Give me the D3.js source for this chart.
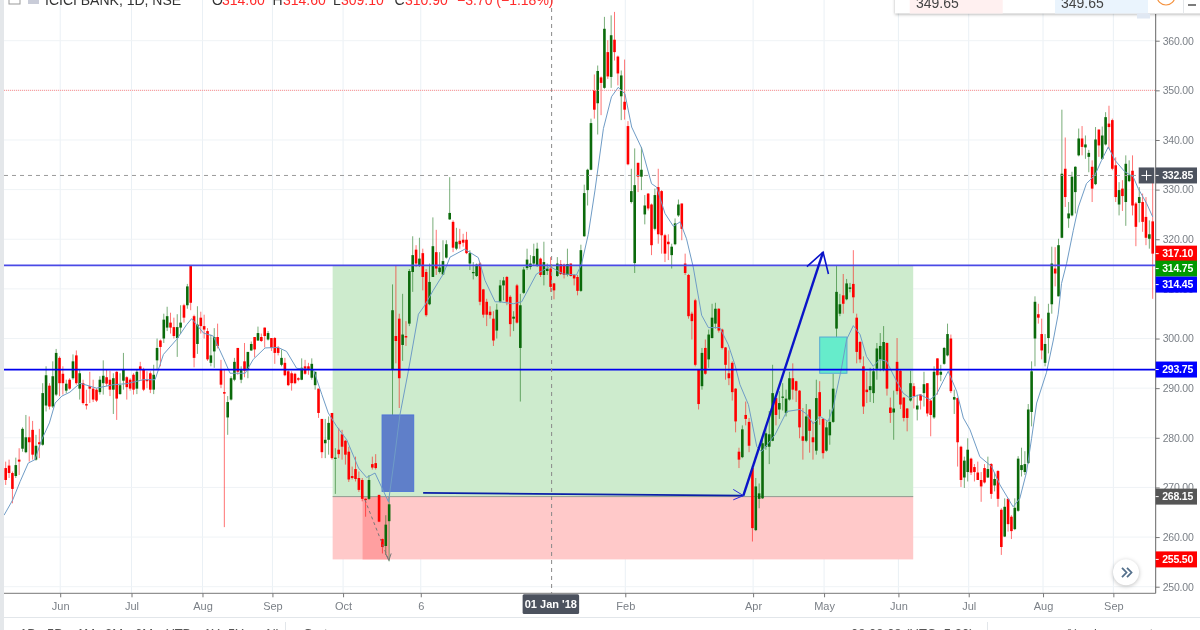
<!DOCTYPE html>
<html>
<head>
<meta charset="utf-8">
<script src="https://cdnjs.cloudflare.com/ajax/libs/d3/7.8.5/d3.min.js"></script>
<style>
html,body{margin:0;padding:0;background:#fff;overflow:hidden}
svg{display:block;font-family:"Liberation Sans",Arial,sans-serif;filter:blur(.35px)}
</style>
</head>
<body>
<div id="chart"></div>
<script>
var w = 1200,
	h = 630;

//Candles, ICICI BANK daily, left to right
var opens = [273.9,274.4,272.9,272.3,275.6,277.8,277.1,280.1,281.6,275.6,
279.1,278.6,286.5,290.5,286.3,288.7,296.1,292.9,289.5,291.7,
292,296.6,289.9,291,286.8,290.4,289.9,289.7,289.2,291,
292.2,291.7,289.7,293.3,288.8,291.5,292.2,291.7,292.7,289.9,
294.4,293.7,291.7,293,289.7,295.6,299.6,300,302.2,303.2,
302.3,300.1,302.2,306.7,306.7,314.6,304.5,298.9,304.2,302.5,
301.5,295.1,297.4,300.3,293.7,289.2,284.1,287.7,291.7,298.1,
291.7,295.4,293.7,297.6,300.3,299.6,300.3,302.2,299.8,300.1,
300.1,298.1,294.7,295.1,293.4,293,292.9,292,291.7,294.4,
294.4,292.1,290.6,289.9,283.8,278.9,279.6,285,275.8,277.6,
280.7,279.4,277.2,272.3,273.7,271.9,271.5,267.7,267.7,274.7,
274.9,268.5,259.6,258.2,263.2,293.7,300.5,304,298.7,300.5,
303,313.4,317.9,314.8,317.2,313.4,306.9,312.4,317.4,313.4,
312.9,316.3,324,323.5,318.1,319.7,319.9,319.9,315.1,313.3,
312.6,315.1,309.9,307.4,305.4,304,301.6,307.4,310.7,312.4,
308.4,304,310.7,298.1,309.2,314.2,314.4,315.1,314.8,316.1,
312.8,313.6,314.1,311.1,312.6,315,314.9,312.8,315.1,312.8,
312.4,309.6,320.6,329.9,334,350,347.4,352.6,350.5,357.7,
352.7,360.2,356.8,348.8,347.7,342.8,327.5,315.2,335.4,332.6,
325,329.2,327,322.1,330.5,329.7,320.8,319.5,316.8,319,
324.8,327.2,315.1,312.8,305,307.7,293.7,290.4,298.1,295.8,
300.1,303,306,301.8,298.2,293,295.1,289.9,277.2,276.1,
284.6,283.2,273.9,261.4,267.7,267.8,278.2,278.2,279.4,288,
285.7,288.1,285,287.7,292,291.4,289.5,280.3,279.4,285.7,
280.1,277.4,289.2,283.8,277.4,280.5,283.2,302,305,308.7,
307.9,310,311,304.2,299.3,294.4,289.7,289.6,289,293.9,
295.8,293.7,299.1,286.1,285.1,295.3,293.5,288.1,285.9,287.5,
290.4,285.7,288.7,289,291,287.5,284.1,296,292.7,294.9,
296.6,300,287.7,288,278.2,272,273.1,275.8,274.1,273,
271.5,273.9,272,274.7,270.4,273.3,265.5,260.1,267.7,264.1,
261.6,265.3,273.5,273.1,274.9,285.2,300,304.9,300.9,295.1,
300.1,306.9,314.1,308.5,320.3,334.2,324.2,324.8,329.5,336.9,
340.3,338.5,336.6,334.6,331.1,342.1,336.2,339.1,343.3,344,
334.9,327,330.2,327.5,331.7,333.8,327.2,327.3,327.5,324.5,320.1,323.6];

var highs = [275.2,275.6,273.2,276,277.9,282.1,284.6,284.3,283.4,280.6,
281.8,291,294.4,291,295.4,297.9,296.4,294.4,291.7,292,
296.8,297.6,293.7,291.7,289.7,293.3,291.7,290,292.4,295.6,
293.7,293.5,293,293.4,293,297.1,292.4,292,293,293.7,
295.3,294.1,293.4,293.4,294.7,300,299.8,305,306.4,305.2,
304.2,304.9,306.7,307,311,314.75,304.8,306.5,305.4,304.8,
302.1,300.8,302.1,303,295.7,293.7,288.4,292.4,296.1,298.1,
294.4,299.1,297.3,299.4,300.3,302.4,301,302.2,301.5,300.1,
300.3,298.5,297.8,296.1,293.7,293.4,293.1,292.2,296,295.7,
295.1,296,293.3,289.9,283.8,283.8,284.3,285,277.9,282,
281.6,279.6,278.2,274.2,276.2,273.2,271.9,267.8,272.5,276.2,
276.7,268.5,259.7,264.4,268.1,310.9,314.7,305,309,303.5,
314,320.6,318.8,320.3,318.1,314,315.1,324.4,321.9,317.4,
319.8,319.8,332.5,323.8,322.3,322.1,321.1,321.5,317.8,315.4,
315.1,315.4,310,308,306.5,305.5,307,311.8,312.4,312.6,
308.7,305.5,311,309,314.4,318.1,316.8,319.1,319.3,316.3,
319.5,315.1,316.4,311.2,316.4,315.8,315.1,318.1,315.1,313,
312.8,318.9,331,334.2,344.3,353.2,355,352.8,364.8,360.1,
365.1,365.8,357,354,356.2,343.8,334.2,338.3,335.4,338.6,
328.9,329.3,327.2,330.2,334.2,329.9,321.1,321,319.1,324.2,
328,327.2,317.1,313,305.4,308,293.8,298.1,299.8,301.8,
307,307.2,306.1,302,298.3,297.6,295.4,290,278,282.5,
287.3,284,274.2,271.9,270.8,280,282.6,285.4,294.7,288.1,
289.4,291,289.7,293.3,295,291.5,289.6,286,286.8,285.8,
283.3,291.7,291.4,284,283.3,285.7,292.9,314.6,309,313,
312,311.2,317.8,305,299.5,296.4,293.3,294.1,294.1,299.1,
301.1,302.5,299.2,288.1,289.5,300.1,293.7,288.2,286,293.5,
291,288.7,288.8,293.3,291,287.7,294.4,296,294.7,298.3,
303,300.8,289.7,288.1,278.4,276.2,279.9,276,274.7,275.2,
273.1,274.7,276.2,274.9,273,273.5,265.8,267.8,267.8,264.4,
267.8,276.3,278,277.3,286.8,295.4,308.5,307,304,300.9,
307,318.5,318.4,320.1,346.1,340.5,327.5,333.6,334.7,342.3,
342.8,340.9,338,335.9,342.6,342.1,342.7,345.6,346.9,344.3,
336.5,331.5,331.9,336.9,335.9,336.9,327.5,330.5,329.2,328.5,323.8,332];

var lows = [270.5,271.9,266.8,271.9,272.5,277.2,276.9,275.2,275.6,275.4,
275.9,278.4,285.3,285.7,286,288.4,288.4,288.7,289,289.7,
291.7,290.7,287.7,286.7,285.7,287,287.2,287.2,288.7,288.7,
290.4,288.4,284.8,283.6,288.7,289.7,287.7,289.5,288.7,288.8,
291.7,289.4,290,289,288.8,293.7,294.4,299.1,301.5,301,
300,296.3,300.9,303.2,306,305.7,294.2,296.9,301,300,
295.5,294.4,294.1,298,290,262,280.6,287.5,291.4,292.7,
291,292.2,292,297.5,296.2,299.5,299.3,298.2,299.6,297.5,
294.9,296.6,294.4,292.4,290.4,289.5,290.8,291.4,291.6,292.7,
292.7,291.7,289.7,284,275.9,275.9,276.6,275.6,268.7,275.9,
275.6,274.6,271.1,271.6,271.2,269.1,267.2,264.1,267.5,273.6,
273.6,263,256.7,256.4,255.1,284.6,295,286,295.5,298.5,
302.5,309.4,314.4,314.4,309.7,304.4,306.7,312.4,312.8,313.1,
312.8,316.1,323.9,317.4,317.8,318.1,318.5,317,313.8,311.9,
312.4,306.7,304.2,302.5,304,298.5,300,307.2,307.7,306.7,
300.4,301.5,303,287.3,309,313.8,313.9,314.8,314.4,312.4,
310.7,312.8,309.4,307.9,312.4,312.8,312.1,312.5,312.5,310.7,
308.7,309.4,320.5,326.8,333.9,344.3,341.1,345,350.3,352.3,
350.5,356,351,344,344.1,334.9,327.2,313.2,329.5,329.9,
323,325.8,316.8,321.8,319.1,317.1,315.4,315.8,314.1,318.8,
324.5,319.8,312.8,304,299.8,294.4,285.7,289.7,292.7,294.1,
300,302,301.2,297.8,291.7,290.6,287.5,281.1,273.9,275.9,
282.5,277.1,259.1,261.2,265.8,267.7,277.6,274.7,279.3,282.5,
283.8,285.5,284.3,287.5,287.7,287.2,279.9,275.6,279.1,277,
275.6,276.6,282.6,275.8,277.2,278.6,283,300.3,304.5,305,
307.7,309.3,305.1,295,295.1,284.8,287,287.2,287,291.7,
293.4,293.4,288.5,283,279.6,288.7,285.8,283.3,281.3,287.3,
285.9,283.5,285.7,286.3,284.3,280.3,283.8,288.7,291.4,294.7,
296.4,289,284.8,274.2,270.1,269.9,271.2,272.5,271.2,271.5,
267.1,270.8,271.9,267.7,269.2,266.1,256.4,260,261.1,259.6,
261.4,265.1,272.2,272.5,274.7,282.3,294.4,303,295.8,294.4,
297,305,310.5,308.5,320.2,326.5,322.3,324.6,325.2,336.7,
336.9,336.2,333.5,327.5,330.9,336.6,336,338.9,338.2,333.9,
327.5,324.8,325.7,322.7,331.5,324.8,318.6,323.4,321.5,318.8,318.1,308];

var closes = [271.5,272.9,269.7,274.5,275.2,281.8,280.1,279.1,276.6,278.4,
278.7,289,292.6,286.3,292.4,297.1,291,291,290.9,289.9,
295.4,291,293,287,286.5,289.9,287.7,287.5,291.7,292.5,
290.9,289.7,292,287.9,290.6,293.7,290.2,289.9,289.7,293.3,
293.7,289.7,291.4,289.7,292.7,298.1,298.3,303.8,304.5,302.2,
300.5,302.3,303.2,304.2,310.5,307.2,296.1,302.8,302.5,301.8,
295.8,296.6,300.3,298.5,290.7,288.9,287.2,292,295.3,293.3,
293.7,293.5,297.3,298.9,297.8,301.1,299.5,300.5,301.1,298.1,
297.1,297.1,296.1,292.6,290.6,291,291,291.7,294.1,292.9,
293.7,294.9,293.3,285,277.1,279.6,283,275.9,276,276.7,
278.2,276.6,271.6,271.9,271.7,269.5,267.7,267.5,271.5,274,
273.9,263.1,258,262.5,266.6,305.7,299.5,292,300.8,300.2,
313.6,316.8,315.1,316.1,312.4,304.7,311.4,318.6,314.1,314.3,
315.6,319,325.3,318.3,319.5,319,319.3,317.2,317.2,313.4,
314.9,307.4,304.8,304.8,304.7,299.6,305.8,310.7,311.7,307.4,
302.9,304.4,303.2,306.7,313.9,315.9,315.1,316.6,318.1,312.8,
315.4,314.1,310.4,309.7,315.1,313,312.8,315,312.6,312.1,
309.6,317.8,329.3,334,343.4,346.1,353.9,351.5,362.4,352.8,
361.1,357.7,353.4,353,346.1,335.1,329.7,330.9,332.6,334,
326.8,326.2,318.8,328.9,321,320.8,317.1,319,318.5,323.2,
327,322.1,313.2,304.5,303.5,294.7,286.8,297.1,292.9,300.8,
304.2,306,301.6,298.1,294.7,292,289.2,283.3,275.6,281.7,
283.8,278.4,261.8,270.2,268.8,278.9,280.9,280.7,289,284.6,
287,288.3,287.9,292,289.7,289.5,282.1,279.4,284.3,281.4,
279.1,288,284.3,276.9,282.1,283.2,289.9,309.4,306.9,307,
311.1,310.3,308.3,297.3,295.8,286.3,289.2,290.4,293.4,298,
298.5,299.3,289.9,285,285.9,289.4,286.7,284,284,291,
288.4,286.5,287.5,290.8,284.9,284.6,293.3,292.6,293.3,298.1,
300.9,289.4,288.2,279.1,271.5,275.4,277.6,273,273.1,271.5,
270.2,271,273.7,268.7,271.7,267.7,258,266.1,262.6,261.2,
265.9,275.8,274.5,274.7,285.7,293.4,307.4,304.2,297.6,298.9,
305.2,315.1,313.1,318.8,333.2,328.5,325.2,332.6,334.6,340.3,
338.6,339.1,337.4,330.2,340.1,338.9,340.9,344.6,342.6,334.2,
328.5,329.9,328.7,335.2,332.9,326.8,322.5,328.5,323.5,320.3,321,317.1];

var maDays = [-0.5,2.1,4.3,6.7,8.7,10.7,13,14.7,16.7,19.1,22.1,27,32,36,40.9,44.4,46.9,50.8,53.8,55.3,
58.8,61.7,64.7,66.7,71.2,73.6,77.1,81,83.5,86.5,91.5,94,95.9,98.4,101.4,104.9,107.3,109.8,113.8,115.3,
117.2,119.7,122.7,124.6,127.1,130.1,132.1,136.5,140.5,142.5,145.5,146.9,150.9,153.4,157.8,161.8,165.8,169.7,171.2,173.2,
175.2,177.7,180.1,182.1,184.1,186.1,189.1,192,193.5,196,198.5,200.5,202.4,204.4,206.9,208.9,212.3,214.8,216.8,218.3,
220.8,223.3,224.7,228.7,232.2,236.1,238.1,240.1,242.1,244.5,246,246.8,248.5,250,252,254,255.9,257.9,259.9,261.9,
264.4,266.8,268.8,271.8,274.8,276.7,278.7,280.2,282.7,284.7,286.7,289.6,293.1,295.6,299.5,301.5,303.5,305,306.5,309.4,
311.4,312.9,313.9,315.4,317.4,318.9,321.3,323.8,325.8,327.8,329.8,332.7,335.2,336.7,339.2,341];
var maValues = [264.4,267.5,271.2,274.9,275.6,279.6,283,287,288.4,289.2,291,290,290.7,290.9,291.7,291.7,296.8,299.8,302.8,304,
301.1,300.5,296.1,293,293,295.8,298.1,298.2,297.4,294,293.7,288.7,285,282.3,279.6,273.9,272,272.9,267.1,274.5,
284.6,293.4,304.9,306.7,309.7,313,316.4,318,316.3,311.7,307.4,307.4,307,307.4,313,314.5,313,312.8,315,321,
329.9,342.3,348.7,350.6,349.3,342.6,338.3,331.2,330.5,325.2,322.6,323.5,320.1,314.4,304.7,302.2,302.2,298.8,294.7,290.7,
286.7,278.2,277.2,280.6,285.3,285.7,284.8,282.8,284.3,283.3,286,288.7,294.1,299.8,302.6,300.8,296.4,294.4,295.8,295.4,
292,289,288,288.7,287.7,288.7,291.4,293.4,289.4,284,281.6,276.2,274.2,270.5,266.1,267.8,273.1,279.9,287,293.1,
299.5,304.9,311.1,315.1,321.8,326.5,331.2,332.9,335.9,338.6,335.9,333.6,332.6,330.2,327.2,324.5];

//Axis ticks (bar number, label)
var priceTicks = [250,260,270,280,290,300,310,320,330,340,350,360];
var timeDays = [16.2,37.4,58.5,79.3,100.3,123.4,184.2,222.2,243.3,265.4,286.3,308.4,329.3];
var timeLabels = ["Jun","Jul","Aug","Sep","Oct","6","Feb","Apr","May","Jun","Jul","Aug","Sep"];
var crosshairDay = 162.3, crosshairLabel = "01 Jan '18";

//Right hand price tags
var tagValues = [332.85,317.10,314.75,314.45,293.75,268.15,255.50];
var tagColors = ["#4c525e","#ff0000","#009900","#0000ff","#0000ff","#555555","#ff0000"];
var tagShift = [0,0,3.3,17.8,0,0,0];

//Drawn on the chart (bar, price)
var levelTop = 314.75, levelMid = 293.75, levelRed = 350, levelGrey = 332.85;
var zoneDays = [97.2,269.8], zonePrices = [314.75,268.15,255.5];
var stopDays = [106.1,113.9];
var blueBoxDays = [111.9,121.3], blueBoxPrices = [284.6,269.2];
var cyanBoxDays = [242,250.1], cyanBoxPrices = [300.3,293];
var flatArrow = [[124.1,268.9],[219.3,268.35]];
var flatHead = [[216.3,269.6],[219.3,268.35],[216.3,267.5]];
var riseArrow = [[219.3,268.35],[243,317.4]];
var riseHead = [[238.2,314.5],[243,317.4],[244.6,313]];
var dashArrow = [[106.8,267.5],[113.9,255.3]];
var dashHead = [[112.9,256.7],[113.9,255.3],[114.6,256.7]];

var x = d3.scaleLinear().domain([0,341]).range([5.7,1152.7]);
var y = d3.scaleLinear().domain([250,360]).range([586.7,40.7]);

var plotLeft = 4, plotRight = 1155.7, plotBottom = 593.3;

var svg = d3.select("#chart").append("svg")
	.attr("width", w)
	.attr("height", h);

svg.append("rect").attr("width", w).attr("height", h).attr("fill", "#fff");

//Grid
svg.selectAll(".vgrid").data(timeDays).enter().append("line")
	.attr("x1", function(d){ return x(d); })
	.attr("x2", function(d){ return x(d); })
	.attr("y1", 0)
	.attr("y2", plotBottom)
	.attr("stroke", "#eaf0f5");

svg.selectAll(".hgrid").data(priceTicks).enter().append("line")
	.attr("x1", plotLeft)
	.attr("x2", plotRight)
	.attr("y1", function(d){ return y(d); })
	.attr("y2", function(d){ return y(d); })
	.attr("stroke", "#eff3f6");

//Long / short zones
function box(days, p0, p1, fill){
	return svg.append("rect")
		.attr("x", x(days[0]))
		.attr("width", x(days[1]) - x(days[0]))
		.attr("y", y(p0))
		.attr("height", y(p1) - y(p0))
		.attr("fill", fill);
}
box(zoneDays, zonePrices[0], zonePrices[1], "#cdebcd");
box(zoneDays, zonePrices[1], zonePrices[2], "#ffc9c9");
box(stopDays, zonePrices[1], zonePrices[2], "#ff9fa0");
svg.append("line")
	.attr("x1", x(zoneDays[0])).attr("x2", x(zoneDays[1]))
	.attr("y1", y(zonePrices[1])).attr("y2", y(zonePrices[1]))
	.attr("stroke", "#8f9a8f");

//Candles
var candles = svg.append("g").selectAll("g")
	.data(d3.range(opens.length))
	.enter().append("g");

function candleColor(i){ return closes[i] >= opens[i] ? "#0b6a0b" : "#ff0000"; }

candles.append("line")
	.attr("x1", function(i){ return x(i); })
	.attr("x2", function(i){ return x(i); })
	.attr("y1", function(i){ return y(highs[i]); })
	.attr("y2", function(i){ return y(lows[i]); })
	.attr("stroke", candleColor)
	.attr("stroke-opacity", 0.55)
	.attr("stroke-width", 1);

candles.append("rect")
	.attr("x", function(i){ return x(i) - 1.3; })
	.attr("width", 2.6)
	.attr("y", function(i){ return y(Math.max(opens[i], closes[i])); })
	.attr("height", function(i){ return Math.max(1.2, Math.abs(y(opens[i]) - y(closes[i]))); })
	.attr("fill", candleColor);

//Boxes on top of the candles
box(blueBoxDays, blueBoxPrices[0], blueBoxPrices[1], "#5f7fc9")
	.attr("stroke", "#4f75d6");
box(cyanBoxDays, cyanBoxPrices[0], cyanBoxPrices[1], "#66eccb")
	.attr("stroke", "#58a9d4");

//Moving average
var maLine = d3.line()
	.x(function(d){ return x(d); })
	.y(function(d, i){ return y(maValues[i]); });

svg.append("path")
	.attr("d", maLine(maDays))
	.attr("fill", "none")
	.attr("stroke", "#6f9cc6")
	.attr("stroke-width", 1);

//Levels
function level(p, color, width, dash){
	svg.append("line")
		.attr("x1", plotLeft).attr("x2", plotRight)
		.attr("y1", y(p)).attr("y2", y(p))
		.attr("stroke", color)
		.attr("stroke-width", width)
		.attr("stroke-dasharray", dash);
}
level(levelRed, "#ff8f8f", 1, "1,1");
level(levelGrey, "#9a9a9a", 1, "4,4");
level(levelTop, "#4a4ae6", 1.8, null);
level(levelMid, "#0000ee", 1.7, null);

//Crosshair
svg.append("line")
	.attr("x1", x(crosshairDay)).attr("x2", x(crosshairDay))
	.attr("y1", 0).attr("y2", plotBottom)
	.attr("stroke", "#888")
	.attr("stroke-dasharray", "4,4");

//Arrows
var pairLine = d3.line()
	.x(function(d){ return x(d[0]); })
	.y(function(d){ return y(d[1]); });

function stroke(pts, color, width, dash){
	svg.append("path")
		.attr("d", pairLine(pts))
		.attr("fill", "none")
		.attr("stroke", color)
		.attr("stroke-width", width)
		.attr("stroke-dasharray", dash);
}
stroke(flatArrow, "#0a1fa8", 1.6);
stroke(flatHead, "#2a2ae0", 1);
stroke(riseArrow, "#0a14c8", 2.4);
stroke(riseHead, "#0a14c8", 1.6);
stroke(dashArrow, "#777", 1, "3,3");
stroke(dashHead, "#777", 1);

//Axes
var bottomAxis = svg.append("g")
	.attr("transform", "translate(0," + plotBottom + ")")
	.call(d3.axisBottom(x)
		.tickValues(timeDays)
		.tickFormat(function(d, i){ return timeLabels[i]; })
		.tickSize(4)
		.tickPadding(5));
bottomAxis.select(".domain").remove();
bottomAxis.selectAll("line").attr("stroke", "#777");
bottomAxis.selectAll("text")
	.attr("font-size", 11)
	.attr("font-family", "Liberation Sans")
	.attr("fill", "#7b8087");

var rightAxis = svg.append("g")
	.attr("transform", "translate(" + plotRight + ",0)")
	.call(d3.axisRight(y)
		.tickValues(priceTicks)
		.tickFormat(d3.format(".2f"))
		.tickSize(4)
		.tickPadding(3));
rightAxis.select(".domain").remove();
rightAxis.selectAll("line").attr("stroke", "#777");
rightAxis.selectAll("text")
	.attr("font-size", 10.5)
	.attr("letter-spacing", -0.2)
	.attr("font-family", "Liberation Sans")
	.attr("fill", "#7b8087");

svg.append("line").attr("x1", plotLeft).attr("x2", plotRight)
	.attr("y1", plotBottom).attr("y2", plotBottom).attr("stroke", "#777").attr("stroke-width", 1);
svg.append("line").attr("x1", plotRight).attr("x2", plotRight)
	.attr("y1", 14).attr("y2", plotBottom).attr("stroke", "#666").attr("stroke-width", 1);

//Price tags
var tags = svg.selectAll(".tag").data(tagValues).enter().append("g")
	.attr("transform", function(d, i){ return "translate(" + plotRight + "," + (y(d) + tagShift[i]) + ")"; });
tags.append("rect")
	.attr("x", 0).attr("y", -8)
	.attr("width", 41.3).attr("height", 16)
	.attr("fill", function(d, i){ return tagColors[i]; });
tags.append("line")
	.attr("x1", 0).attr("x2", 3)
	.attr("stroke", "#fff");
tags.append("text")
	.attr("x", 6.5).attr("dy", "0.35em")
	.attr("font-size", 10.5)
	.attr("letter-spacing", -0.2)
	.attr("font-weight", "bold")
	.attr("fill", "#fff")
	.text(function(d){ return d3.format(".2f")(d); });

//Crosshair plus button
svg.append("rect").attr("x", 1138.7).attr("y", y(levelGrey) - 8).attr("width", 15.6).attr("height", 16).attr("fill", "#4c525e");
svg.append("path")
	.attr("d", "M1146.5 " + (y(levelGrey) - 5) + "v10M1141.5 " + y(levelGrey) + "h10")
	.attr("stroke", "#fff");

//Crosshair date
svg.append("rect")
	.attr("x", x(crosshairDay) - 29).attr("y", 594.3)
	.attr("width", 56.5).attr("height", 19.7)
	.attr("rx", 1.5)
	.attr("fill", "#4c525e");
svg.append("text")
	.attr("x", x(crosshairDay) - 0.8).attr("y", 608)
	.attr("text-anchor", "middle")
	.attr("font-size", 11)
	.attr("font-weight", "bold")
	.attr("fill", "#fff")
	.text(crosshairLabel);

//Scroll button
svg.append("circle")
	.attr("cx", 1126).attr("cy", 572.3).attr("r", 13)
	.attr("fill", "#fff")
	.style("filter", "drop-shadow(0 1px 2px rgba(0,0,0,.25))");
svg.append("path")
	.attr("d", "M1122 567.8l4.5 4.7-4.5 4.7M1127 567.8l4.5 4.7-4.5 4.7")
	.attr("fill", "none")
	.attr("stroke", "#54708c")
	.attr("stroke-width", 1.8);

//Window furniture, cropped by the picture
svg.append("rect").attr("x", 0).attr("y", 0).attr("width", plotLeft).attr("height", h).attr("fill", "#e4e7ea");
svg.append("line").attr("x1", plotLeft).attr("x2", w).attr("y1", 617.5).attr("y2", 617.5).attr("stroke", "#e2e6ea");

function label(txt, px, py, size, color){
	svg.append("text").attr("x", px).attr("y", py)
		.attr("font-size", size).attr("fill", color).text(txt);
}

//Header
svg.append("rect").attr("x", 9).attr("y", -5).attr("width", 11).attr("height", 9).attr("fill", "none").attr("stroke", "#999");
svg.append("rect").attr("x", 28).attr("y", -5).attr("width", 11).attr("height", 9).attr("fill", "#c9ccd8");
label("ICICI BANK, 1D, NSE", 45, 4.5, 14, "#333");
label("O", 212, 4.5, 14, "#333");
label("314.60", 222, 4.5, 14, "#ff2a2a");
label("H", 272.5, 4.5, 14, "#333");
label("314.60", 283, 4.5, 14, "#ff2a2a");
label("L", 333, 4.5, 14, "#333");
label("309.10", 341, 4.5, 14, "#ff2a2a");
label("C", 394.5, 4.5, 14, "#333");
label("310.90", 405, 4.5, 14, "#ff2a2a");
label("\u22123.70 (\u22121.18%)", 457, 4.5, 14, "#ff2a2a");

//Trading panel, top right
svg.append("rect").attr("x", 895).attr("y", -4).attr("width", 310).attr("height", 17.5)
	.attr("fill", "#fff")
	.style("filter", "drop-shadow(0 1px 1.5px rgba(0,0,0,.3))");
svg.append("rect").attr("x", 909.7).attr("y", -4).attr("width", 93).attr("height", 17.5).attr("fill", "#fff0f0");
svg.append("rect").attr("x", 1055).attr("y", -4).attr("width", 93).attr("height", 17.5).attr("fill", "#eaf4fd");
svg.append("rect").attr("x", 1137).attr("y", 13.5).attr("width", 13).attr("height", 5).attr("fill", "#e0e8f3");
label("349.65", 916, 8, 14, "#444");
label("349.65", 1061, 8, 14, "#444");
svg.append("circle").attr("cx", 1166).attr("cy", -4).attr("r", 9).attr("fill", "none").attr("stroke", "#f5923e").attr("stroke-width", 1.2);
svg.append("line").attr("x1", 1183.5).attr("x2", 1183.5).attr("y1", 0).attr("y2", 13.5).attr("stroke", "#e4e7ea");
svg.append("line").attr("x1", 1188).attr("x2", 1196).attr("y1", 5).attr("y2", 5).attr("stroke", "#444").attr("stroke-width", 1.4);

//Bottom toolbar
var rangeLabels = ["1D","5D","1M","3M","6M","YTD","1Y","5Y","All"];
var rangeLeft = [20,47,77,105,135,166,204,228,264];
rangeLabels.forEach(function(t, i){ label(t, rangeLeft[i], 638, 13, "#555"); });
svg.append("line").attr("x1", 285.5).attr("x2", 285.5).attr("y1", 622).attr("y2", h).attr("stroke", "#e2e6ea");
label("Go to...", 303, 638, 13, "#555");
label("08:08:08 (UTC+5:30)", 851, 638, 13, "#555");
svg.append("line").attr("x1", 987.5).attr("x2", 987.5).attr("y1", 622).attr("y2", h).attr("stroke", "#e2e6ea");
label("%", 1067, 638, 13, "#555");
label("log", 1094, 638, 13, "#555");
label("auto", 1135, 638, 13, "#555");
</script>
</body>
</html>
